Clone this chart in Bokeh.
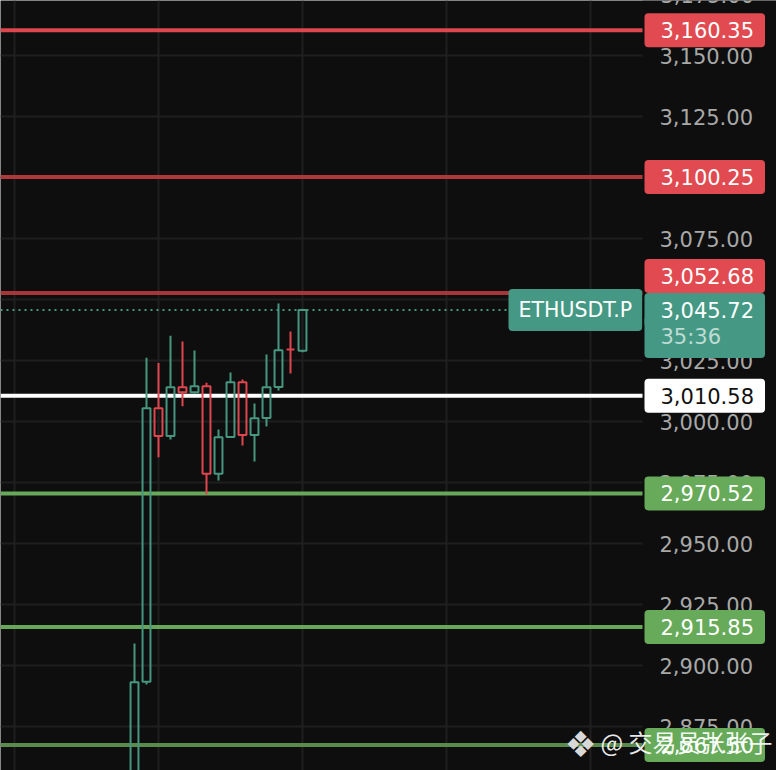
from bokeh.plotting import figure
from bokeh.models import ColumnDataSource, Range1d, FixedTicker, NumeralTickFormatter, Label, LinearAxis
from bokeh.embed import file_html
from bokeh.resources import INLINE

BG = "#0e0e0e"
GRID = "#1f1f1f"
UP = "#46977f"
DOWN = "#e0464f"
AXIS_TEXT = "#a8a8a8"
FONT = "DejaVu Sans"
SIZE = "21px"
LAST_BG = "#459984"

indices = [10, 11, 12, 13, 14, 15, 16, 17, 18, 19, 20, 21, 22, 23, 24]
opens =  [2840.0, 2893.4, 3005.45, 2994.1, 3014.1, 3012.0, 3014.5, 2978.6, 2993.7, 3016.1, 2994.5, 3001.5, 3014.2, 3029.5, 3029.0]
closes = [2893.2, 3005.45, 2994.1, 3014.1, 3012.0, 3014.5, 2978.6, 2993.6, 3016.1, 2994.5, 3001.4, 3014.1, 3029.2, 3029.5, 3045.72]
highs =  [2909.0, 3026.1, 3024.0, 3035.2, 3032.8, 3029.1, 3015.9, 2996.7, 3020.1, 3017.2, 3007.4, 3027.5, 3048.4, 3036.9, 3046.2]
lows =   [2830.0, 2892.2, 2985.4, 2992.6, 3006.3, 3011.5, 2970.1, 2975.8, 2993.7, 2990.2, 2983.6, 2998.0, 3012.7, 3019.7, 3028.4]

level_prices = [3160.35, 3100.25, 3052.68, 3010.58, 2970.52, 2915.85, 2867.50]
level_colors = ["#dc474d", "#ae393d", "#a83638", "#ffffff", "#67a85a", "#66a858", "#5a8a4c"]
badge_colors = ["#e04a50", "#e04a50", "#e04a50", "#ffffff", "#67aa5a", "#67aa5a", "#67aa5a"]
badge_text = ["#ffffff", "#ffffff", "#ffffff", "#111111", "#ffffff", "#ffffff", "#ffffff"]
badge_shift = [0, 0, 17, 0, 0, 0, 0]

last_price = 3045.72
countdown = "35:36"
symbol = "ETHUSDT.P"
tick_prices = [2875, 2900, 2925, 2950, 2975, 3000, 3025, 3050, 3075, 3100, 3125, 3150]
clipped_tick = 3175
v_grid = [0, 12, 24, 36, 48]

X0, X_SCALE, X_END = -14 / 12, 628 / 12, 762 / 12
Y0, Y1 = 2857.0, 3172.55

p = figure(width=776, height=770, output_backend="svg", toolbar_location=None,
           x_range=Range1d(X0, X_END), y_range=Range1d(Y0, Y1),
           background_fill_color=BG, border_fill_color=BG, outline_line_color=None,
           min_border=0, margin=(0, 0, 0, 0), tools="")

p.xaxis.visible = False
p.yaxis.visible = False
p.xgrid.ticker = FixedTicker(ticks=v_grid)
p.ygrid.ticker = FixedTicker(ticks=tick_prices)
p.grid.grid_line_color = GRID
p.grid.grid_line_width = 2

# price-scale panel hides the grid right of the chart pane
p.quad(left=[X_SCALE], right=[X_END], top=[Y1], bottom=[Y0], fill_color=BG, line_color=None)

axis = LinearAxis(ticker=FixedTicker(ticks=tick_prices), formatter=NumeralTickFormatter(format="0,0.00"),
                  fixed_location=X_SCALE)
axis.axis_line_color = None
axis.major_tick_line_color = None
axis.minor_tick_line_color = None
axis.major_label_text_color = AXIS_TEXT
axis.major_label_text_font = FONT
axis.major_label_text_font_size = SIZE
axis.major_label_standoff = 11
p.add_layout(axis, "right")

p.add_layout(Label(x=660, y=clipped_tick, x_units="screen", text=format(clipped_tick, ",.2f"),
                   text_color=AXIS_TEXT, text_font=FONT, text_font_size=SIZE,
                   text_baseline="middle", text_align="left"))

p.segment(x0=[X0] * len(level_prices), x1=[X_SCALE] * len(level_prices), y0=level_prices, y1=level_prices,
          line_color=level_colors, line_width=4)
p.segment(x0=[X0], x1=[X_SCALE], y0=[last_price], y1=[last_price], line_color=UP, line_width=2, line_dash="2 4")

colors = [UP if c > o else DOWN for o, c in zip(opens, closes)]
tops = [max(o, c) for o, c in zip(opens, closes)]
bottoms = [min(o, c) for o, c in zip(opens, closes)]
src = ColumnDataSource(dict(x=indices, left=[i - 0.33 for i in indices], right=[i + 0.33 for i in indices],
                            high=highs, low=lows, top=tops, bottom=bottoms, color=colors))
p.segment("x", "high", "x", "top", source=src, line_color="color", line_width=2)
p.segment("x", "bottom", "x", "low", source=src, line_color="color", line_width=2)
p.quad(left="left", right="right", top="top", bottom="bottom", source=src,
       fill_color=None, line_color="color", line_width=2)

def badge(y, text, bg, fg, x=644, yoff=0, pad=(16, 11, 9, 9), radius=4, size=SIZE):
    p.add_layout(Label(x=x, y=y, x_units="screen", y_offset=yoff, text=text, text_color=fg,
                       text_font=FONT, text_font_size=size, text_baseline="middle",
                       text_align="left", background_fill_color=bg, padding=pad, border_radius=radius))

for price, col, fg, shift in zip(level_prices, badge_colors, badge_text, badge_shift):
    badge(price, format(price, ",.2f"), col, fg, yoff=shift)

badge(last_price, symbol, LAST_BG, "#ffffff", x=508, pad=(10, 10, 9, 9), size="20.5px")
badge(last_price, countdown, LAST_BG, "#bfdcd4", yoff=-27, pad=(16, 44, 9, 9))
badge(last_price, format(last_price, ",.2f"), LAST_BG, "#ffffff")

p.add_layout(Label(x=564, y=6, x_units="screen", y_units="screen", text="\u2756", text_color="#d8d8d8",
                   text_font="DejaVu Sans", text_font_size="36px", text_align="left"))
p.add_layout(Label(x=600, y=12, x_units="screen", y_units="screen", text="@ 交易员张张子", text_color="#ffffff",
                   text_alpha=0.92, text_font="Noto Sans CJK SC", text_font_size="24px", text_align="left"))

open("out.html", "w").write(file_html(p, INLINE))
